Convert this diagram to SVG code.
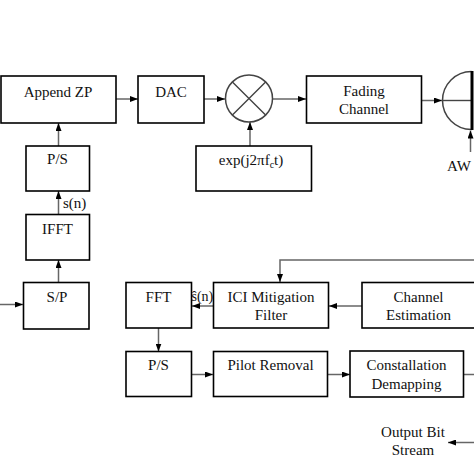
<svg xmlns="http://www.w3.org/2000/svg" width="474" height="474" viewBox="0 0 474 474">
<defs>
<marker id="ah" markerWidth="8" markerHeight="6" refX="8" refY="3" orient="auto" markerUnits="userSpaceOnUse">
<path d="M0,0 L8,3 L0,6 Z" fill="#000"/>
</marker>
<style>
.box{fill:#fff;stroke:#000;stroke-width:1.6}
.t{font-family:"Liberation Serif","Times New Roman",serif;font-size:15px;fill:#111;text-anchor:middle}
.l{font-family:"Liberation Serif","Times New Roman",serif;font-size:15px;fill:#111}
.c{fill:none;stroke:#666;stroke-width:1.5}
.a{fill:none;stroke:#666;stroke-width:1.5;marker-end:url(#ah)}
</style>
</defs>
<rect width="474" height="474" fill="#fff"/>
<g id="connectors">
<path class="a" d="M116,99 H138"/>
<path class="a" d="M204,99 H225"/>
<path class="a" d="M272,99 H306"/>
<path class="a" d="M421,100.5 H442"/>
<path class="a" d="M58.5,146 V123"/>
<path class="a" d="M58.5,214 V191"/>
<path class="a" d="M58.5,282 V260"/>
<path class="a" d="M0,304.5 H23"/>
<path class="a" d="M250,146 V122"/>
<path class="a" d="M470.5,152 V130.5"/>
<path class="a" d="M474,260 H280 V282"/>
<path class="a" d="M362,306 H329"/>
<path class="a" d="M213,306 H192"/>
<path class="a" d="M158.5,328 V351.5"/>
<path class="a" d="M192,374.5 H213"/>
<path class="a" d="M328,374.5 H350"/>
<path class="c" d="M463.5,374.5 H474"/>
<path class="a" d="M474,442.5 H448"/>
</g>
<g id="append-zp"><rect class="box" x="1" y="76" width="115" height="47"/><text class="t" x="58" y="97">Append ZP</text></g>
<g id="dac"><rect class="box" x="138" y="76" width="66" height="47"/><text class="t" x="171" y="97">DAC</text></g>
<g id="mixer"><circle cx="249" cy="98.5" r="23.5" fill="#fff" stroke="#444" stroke-width="1.5"/><path d="M232.4,81.9 L265.6,115.1 M265.6,81.9 L232.4,115.1" stroke="#444" stroke-width="1.4"/></g>
<g id="fading-channel"><rect class="box" x="306.5" y="76" width="115" height="47"/><text class="t" x="364" y="96">Fading</text><text class="t" x="364" y="114">Channel</text></g>
<g id="adder"><path d="M471.5,71.5 A29,29 0 0 0 471.5,129.5" fill="#fff" stroke="#444" stroke-width="1.5"/><path d="M442.5,100.5 H471.5" stroke="#444" stroke-width="1.4"/><path d="M472,71 V130" stroke="#000" stroke-width="3"/><text class="t" x="447" y="170.5" style="text-anchor:start">AW</text></g>
<g id="exp"><rect class="box" x="196" y="146" width="115.5" height="45"/><text class="t" x="251" y="165">exp(j2πf<tspan font-size="10" dy="3">c</tspan><tspan dy="-3">t)</tspan></text></g>
<g id="ps-top"><rect class="box" x="26" y="146" width="63.5" height="45"/><text class="t" x="57.5" y="164">P/S</text></g>
<text class="l" x="63" y="208">s(n)</text>
<g id="ifft"><rect class="box" x="26" y="214.5" width="63.5" height="45.5"/><text class="t" x="57.5" y="234">IFFT</text></g>
<g id="sp"><rect class="box" x="23.5" y="282.5" width="65.5" height="46.5"/><text class="t" x="57" y="302">S/P</text></g>
<g id="fft"><rect class="box" x="126" y="282.5" width="65.5" height="45.5"/><text class="t" x="158.5" y="302">FFT</text></g>
<text class="l" x="191.5" y="301" style="font-size:14px">ŝ(n)</text>
<g id="ici"><rect class="box" x="213.5" y="282.5" width="115" height="45.5"/><text class="t" x="271" y="302">ICI Mitigation</text><text class="t" x="271" y="320">Filter</text></g>
<g id="channel-estimation"><rect class="box" x="362" y="282.5" width="116" height="45.5"/><text class="t" x="418.5" y="302">Channel</text><text class="t" x="418.5" y="320">Estimation</text></g>
<g id="ps-bottom"><rect class="box" x="126" y="351.5" width="65.5" height="45"/><text class="t" x="158.5" y="370">P/S</text></g>
<g id="pilot-removal"><rect class="box" x="213.5" y="351.5" width="114" height="45"/><text class="t" x="270.5" y="370">Pilot Removal</text></g>
<g id="demapping"><rect class="box" x="350" y="351" width="113.5" height="46"/><text class="t" x="406.5" y="370">Constallation</text><text class="t" x="406.5" y="388.5">Demapping</text></g>
<g id="output"><text class="t" x="413" y="437">Output Bit</text><text class="t" x="413" y="455">Stream</text></g>
</svg>
